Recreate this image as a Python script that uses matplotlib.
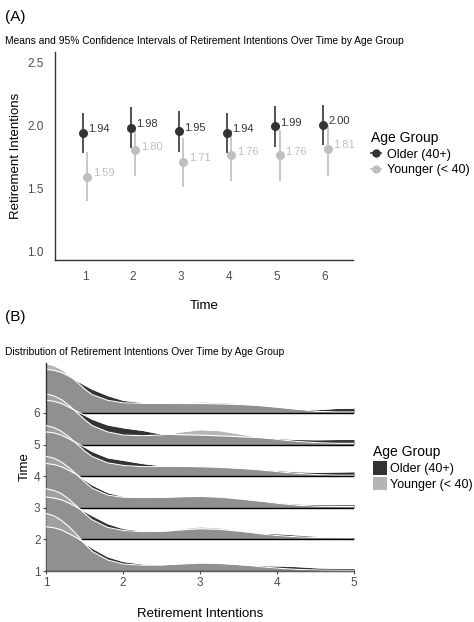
import numpy as np
import matplotlib
matplotlib.use("Agg")
import matplotlib.pyplot as plt
from matplotlib.patches import Patch
from matplotlib.lines import Line2D

plt.rcParams['font.family'] = ['Liberation Sans', 'DejaVu Sans']

# ---- Panel A data ----
times = [1, 2, 3, 4, 5, 6]
older_mean = [1.94, 1.98, 1.95, 1.94, 1.99, 2.00]
older_lo = [1.78, 1.82, 1.79, 1.78, 1.83, 1.84]
older_hi = [2.10, 2.14, 2.11, 2.10, 2.15, 2.16]
young_mean = [1.59, 1.80, 1.71, 1.76, 1.76, 1.81]
young_lo = [1.40, 1.60, 1.51, 1.56, 1.56, 1.60]
young_hi = [1.79, 1.97, 1.90, 1.96, 1.96, 2.00]
groups = ["Older (40+)", "Younger (< 40)"]

# ---- Panel B data: density heights at knots ----
knots = [1, 1.1, 1.2, 1.3, 1.4, 1.5, 1.6, 1.8, 2, 2.25, 2.5, 2.75, 3, 3.25, 3.5, 3.75, 4, 4.25, 4.5, 4.75, 5]
dens_old = {
    1: [1.40, 1.37, 1.30, 1.18, 1.05, 0.88, 0.72, 0.45, 0.30, 0.22, 0.20, 0.22, 0.25, 0.24, 0.20, 0.17, 0.16, 0.14, 0.10, 0.08, 0.08],
    2: [1.34, 1.31, 1.25, 1.15, 1.02, 0.88, 0.75, 0.50, 0.34, 0.27, 0.25, 0.30, 0.34, 0.32, 0.26, 0.20, 0.18, 0.14, 0.10, 0.07, 0.06],
    3: [1.40, 1.37, 1.30, 1.18, 1.05, 0.88, 0.72, 0.48, 0.36, 0.33, 0.33, 0.35, 0.36, 0.34, 0.28, 0.22, 0.16, 0.12, 0.10, 0.10, 0.10],
    4: [1.40, 1.37, 1.30, 1.18, 1.05, 0.92, 0.78, 0.58, 0.50, 0.40, 0.33, 0.31, 0.30, 0.28, 0.25, 0.22, 0.18, 0.14, 0.12, 0.13, 0.14],
    5: [1.40, 1.37, 1.30, 1.18, 1.05, 0.93, 0.80, 0.62, 0.53, 0.45, 0.33, 0.31, 0.30, 0.28, 0.25, 0.22, 0.19, 0.16, 0.15, 0.16, 0.16],
    6: [1.38, 1.35, 1.28, 1.16, 1.02, 0.88, 0.75, 0.55, 0.40, 0.33, 0.30, 0.30, 0.30, 0.29, 0.27, 0.24, 0.18, 0.12, 0.10, 0.14, 0.15],
}
dens_young = {
    1: [1.82, 1.75, 1.60, 1.40, 1.15, 0.87, 0.62, 0.35, 0.22, 0.18, 0.18, 0.24, 0.28, 0.26, 0.20, 0.14, 0.09, 0.05, 0.03, 0.02, 0.02],
    2: [1.60, 1.55, 1.45, 1.27, 1.05, 0.82, 0.62, 0.38, 0.28, 0.24, 0.26, 0.34, 0.40, 0.37, 0.28, 0.18, 0.12, 0.08, 0.06, 0.05, 0.05],
    3: [1.63, 1.57, 1.45, 1.27, 1.05, 0.82, 0.62, 0.40, 0.33, 0.32, 0.34, 0.36, 0.37, 0.35, 0.30, 0.22, 0.14, 0.08, 0.05, 0.04, 0.04],
    4: [1.60, 1.54, 1.42, 1.24, 1.02, 0.80, 0.62, 0.42, 0.34, 0.30, 0.30, 0.32, 0.33, 0.30, 0.26, 0.20, 0.14, 0.09, 0.05, 0.03, 0.03],
    5: [1.60, 1.54, 1.42, 1.24, 1.02, 0.79, 0.60, 0.40, 0.30, 0.28, 0.30, 0.40, 0.47, 0.44, 0.34, 0.24, 0.16, 0.10, 0.06, 0.04, 0.04],
    6: [1.56, 1.50, 1.38, 1.20, 0.98, 0.76, 0.58, 0.40, 0.32, 0.30, 0.30, 0.32, 0.35, 0.34, 0.30, 0.25, 0.20, 0.12, 0.05, 0.03, 0.03],
}

DARK = '#333333'
LIGHT = '#a5a5a5'
TICK = '#4d4d4d'

fig = plt.figure(figsize=(4.74, 6.22), dpi=100)

# ================= Panel A =================
axA = fig.add_axes([55/474, 1-260/622, 298/474, 208/622])
dodge = 0.05
for i, t in enumerate(times):
    axA.vlines(t - dodge, older_lo[i], older_hi[i], color=DARK, lw=1.2)
    axA.vlines(t + dodge, young_lo[i], young_hi[i], color='#bfbfbf', lw=1.2)
axA.scatter(np.array(times) - dodge, older_mean, color=DARK, s=30, zorder=3)
axA.scatter(np.array(times) + dodge, young_mean, color='#bfbfbf', s=30, zorder=3)
for i, t in enumerate(times):
    axA.text(t - dodge + 0.12, older_mean[i] + 0.03, f"{older_mean[i]:.2f}", color=DARK, fontsize=8, va='center')
    axA.text(t + dodge + 0.12, young_mean[i] + 0.03, f"{young_mean[i]:.2f}", color='#bfbfbf', fontsize=8, va='center')
axA.set_xlim(0.375, 6.58)
axA.set_ylim(0.93, 2.58)
axA.set_xticks(times)
axA.set_yticks([1.0, 1.5, 2.0, 2.5])
axA.set_yticklabels(['1.0', '1.5', '2.0', '2.5'])
for s in ['top', 'right']:
    axA.spines[s].set_visible(False)
for s in ['left', 'bottom']:
    axA.spines[s].set_color(DARK)
    axA.spines[s].set_linewidth(1.0)
axA.tick_params(length=0, colors=TICK, labelsize=8.5, pad=8)
axA.set_xlabel('Time', fontsize=9.5, labelpad=12)
axA.set_ylabel('Retirement Intentions', fontsize=9.5, labelpad=4)
fig.text(5/474, 1-17/622, '(A)', fontsize=11, va='center')
fig.text(5/474, 1-41/622, 'Means and 95% Confidence Intervals of Retirement Intentions Over Time by Age Group',
         fontsize=7.4, va='center')
hA = [Line2D([0], [0], color=DARK, marker='o', lw=1.2, markersize=5),
      Line2D([0], [0], color='#bfbfbf', marker='o', lw=1.2, markersize=5)]
fig.legend(hA, groups, title='Age Group', loc='upper left', bbox_to_anchor=(366/474, 1-126/622),
           frameon=False, fontsize=9, title_fontsize=10, handlelength=0.8, handletextpad=0.5,
           labelspacing=0.3, alignment='left', borderaxespad=0)

# ================= Panel B =================
axB = fig.add_axes([46/474, 1-571/622, 308/474, 208/622])
xs = np.linspace(1, 5, 400)
for t in sorted(times, reverse=True):
    yo = np.interp(xs, knots, dens_old[t])
    yy = np.interp(xs, knots, dens_young[t])
    axB.fill_between(xs, t, t + yo, color=DARK, lw=0, zorder=7 - t)
    axB.fill_between(xs, t, t + yy, color=LIGHT, alpha=0.82, lw=0, zorder=7 - t)
    axB.plot(xs, t + yo, color='white', lw=0.8, zorder=7 - t)
    axB.plot(xs, t + yy, color='white', lw=0.8, zorder=7 - t)
    axB.plot([1, 5], [t, t], color='black', lw=1.0, zorder=7 - t)
axB.set_xlim(1, 5)
axB.set_ylim(1, 7.58)
axB.set_xticks([1, 2, 3, 4, 5])
axB.set_yticks(times)
for s in ['top', 'right']:
    axB.spines[s].set_visible(False)
for s in ['left', 'bottom']:
    axB.spines[s].set_color(DARK)
    axB.spines[s].set_linewidth(1.0)
axB.tick_params(length=2, colors=TICK, labelsize=8.5, pad=2)
axB.set_xlabel('Retirement Intentions', fontsize=9.5, labelpad=14)
axB.set_ylabel('Time', fontsize=9.5, labelpad=2)
fig.text(5/474, 1-317/622, '(B)', fontsize=11, va='center')
fig.text(5/474, 1-352/622, 'Distribution of Retirement Intentions Over Time by Age Group',
         fontsize=7.4, va='center')
hB = [Patch(facecolor=DARK), Patch(facecolor='#b5b5b5')]
fig.legend(hB, groups, title='Age Group', loc='upper left', bbox_to_anchor=(368/474, 1-440/622),
           frameon=False, fontsize=9, title_fontsize=10, handlelength=1.1, handleheight=1.3,
           handletextpad=0.3, labelspacing=0.15, alignment='left', borderaxespad=0)

fig.savefig('out.png', dpi=100)
